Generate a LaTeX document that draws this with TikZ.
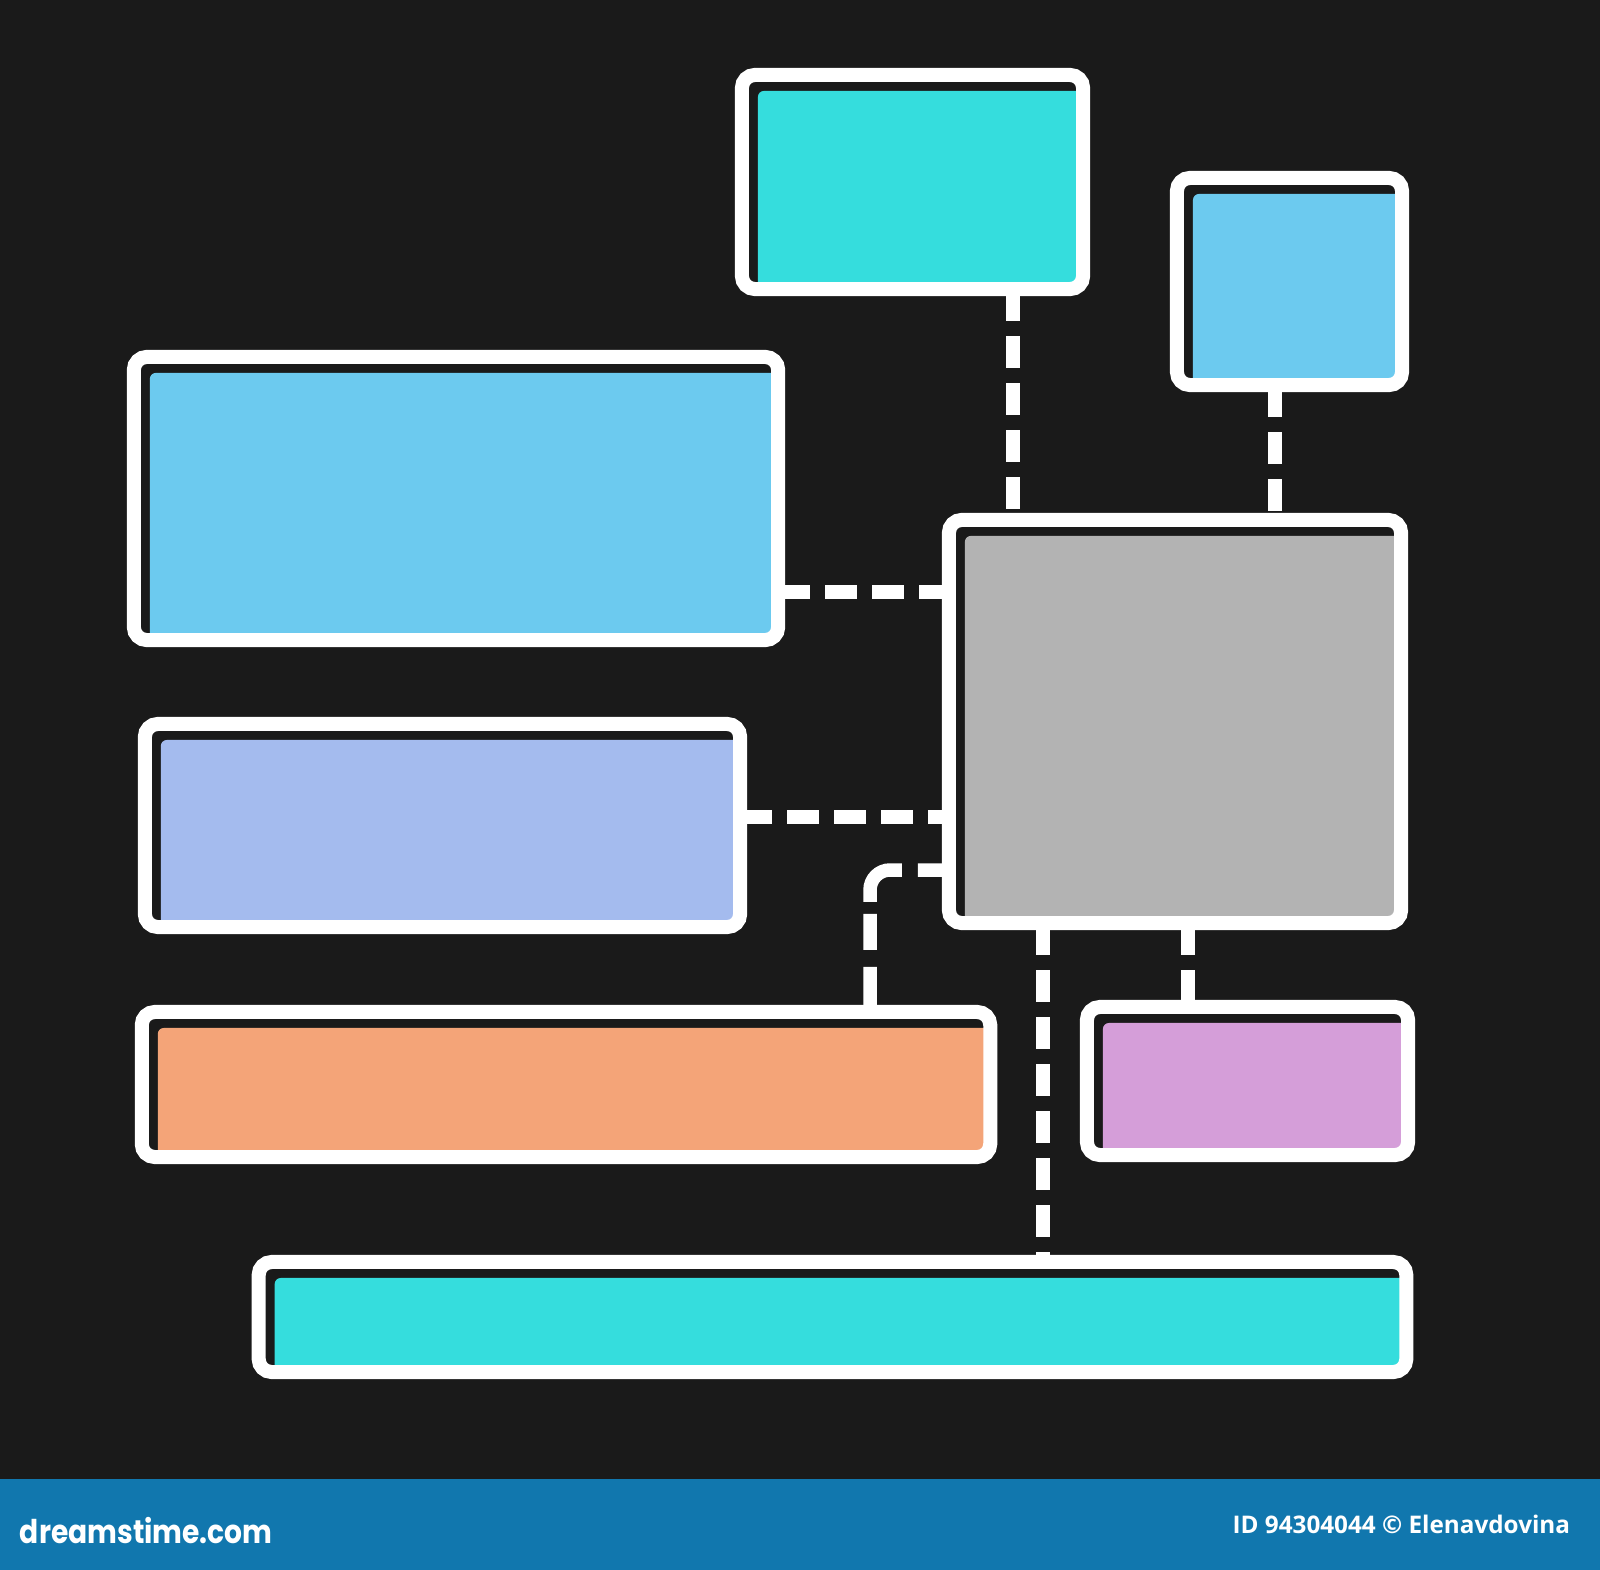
\documentclass[tikz,border=0pt]{standalone}
\usepackage{fontspec}
\setmainfont{Open Sans}
\newfontfamily\logofont{Poppins}
\definecolor{bg}{HTML}{1A1A1A}
\definecolor{barblue}{HTML}{1177AE}
\definecolor{cyanfill}{HTML}{35DDDD}
\definecolor{bluefill}{HTML}{6CCAEF}
\definecolor{grayfill}{HTML}{B3B3B3}
\definecolor{perifill}{HTML}{A4BBEE}
\definecolor{orangefill}{HTML}{F4A478}
\definecolor{purplefill}{HTML}{D59ED9}
\begin{document}
\begin{tikzpicture}[x=0.01cm,y=-0.01cm,
  box/.style={draw=white, line width=0.14cm, rounded corners=0.13cm,
    inner sep=0pt, outer sep=0pt, fill=bg,
    path picture={\fill[#1, rounded corners=0.06cm]
      ([shift={(0.16cm,-0.16cm)}]path picture bounding box.north west)
      rectangle ([shift={(0.1cm,-0.1cm)}]path picture bounding box.south east);}},
  conn/.style={draw=white, line width=0.135cm, dash pattern=on 0.32cm off 0.15cm},
  bartext/.style={text=white, inner sep=0pt, outer sep=0pt}]
\fill[bg] (0,0) rectangle (1600,1570);
\fill[barblue] (0,1479) rectangle (1600,1570);

\node[box=cyanfill,   minimum width=3.41cm,  minimum height=2.14cm] (A) at (912.5,182) {};
\node[box=bluefill,   minimum width=2.25cm,  minimum height=2.07cm] (B) at (1289.5,281.5) {};
\node[box=bluefill,   minimum width=6.44cm,  minimum height=2.83cm] (C) at (456,498.5) {};
\node[box=grayfill,   minimum width=4.52cm,  minimum height=4.03cm] (D) at (1175,721.5) {};
\node[box=perifill,   minimum width=5.95cm,  minimum height=2.03cm] (E) at (442.5,825.5) {};
\node[box=orangefill, minimum width=8.48cm,  minimum height=1.45cm] (F) at (566,1084.5) {};
\node[box=purplefill, minimum width=3.21cm,  minimum height=1.48cm] (G) at (1247.5,1081) {};
\node[box=cyanfill,   minimum width=11.47cm, minimum height=1.10cm] (H) at (832.5,1317) {};

\coordinate (k1) at (1013,0);
\coordinate (k2) at (1275,0);
\coordinate (k3) at (0,592);
\coordinate (k4) at (0,817);
\coordinate (k5) at (870,870);
\coordinate (k6) at (1043,0);
\coordinate (k7) at (1188,0);

\draw[conn] (A.south -| k1) -- (D.north -| k1);
\draw[conn] (B.south -| k2) -- (D.north -| k2);
\draw[conn] (C.east |- k3) -- (D.west |- k3);
\draw[conn] (E.east |- k4) -- (D.west |- k4);
\draw[conn, rounded corners=0.2cm,
  dash pattern=on 0.31cm off 0.16cm on 0.55cm off 0.12cm on 0.36cm off 0.17cm on 0.6cm off 0.1cm]
  (D.west |- k5) -| (F.north -| k5);
\draw[conn] (D.south -| k6) -- (H.north -| k6);
\draw[conn] (D.south -| k7) -- (G.north -| k7);

\node[bartext, anchor=base west, font=\logofont\bfseries\fontsize{9.3pt}{10pt}\selectfont] (logo) at (20,1543) {\scalebox{0.86}[1]{dreamstime.com}};
\node[bartext, anchor=base east, font=\bfseries\fontsize{6.9pt}{8pt}\selectfont] (credit) at (1570,1533) {ID 94304044 © Elenavdovina};
\end{tikzpicture}
\end{document}
